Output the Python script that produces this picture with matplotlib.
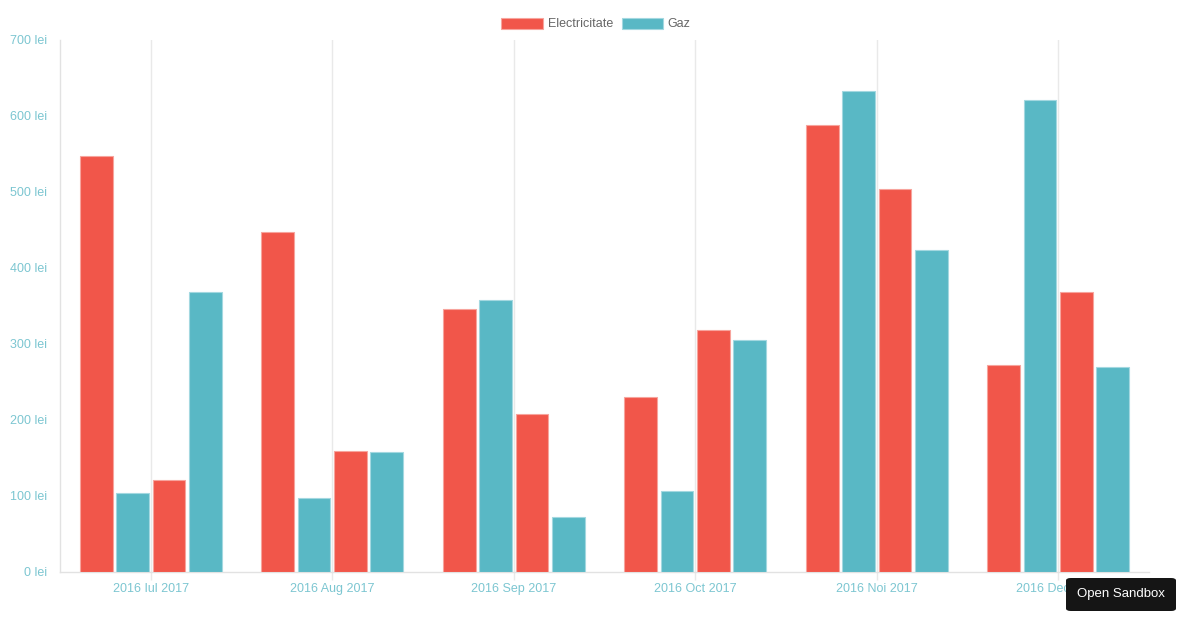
import matplotlib
matplotlib.use("Agg")
import matplotlib.pyplot as plt
from matplotlib.patches import FancyBboxPatch
import numpy as np

plt.rcParams['font.family'] = ['Liberation Sans', 'DejaVu Sans']

categories = ["2016 Iul 2017", "2016 Aug 2017", "2016 Sep 2017",
              "2016 Oct 2017", "2016 Noi 2017", "2016 Dec 2017"]
elec_2016 = [548, 447, 346, 230, 588, 272]
gaz_2016 = [104, 98, 358, 106, 633, 621]
elec_2017 = [121, 159, 208, 319, 504, 369]
gaz_2017 = [368, 158, 72, 305, 424, 270]
yticks = [0, 100, 200, 300, 400, 500, 600, 700]

RED = "#F1564A"
TEAL = "#59B8C5"
RED_EDGE = "#F7A49D"
TEAL_EDGE = "#A3D8E0"
TICK_COLOR = "#7CC6D1"
GRID = "#E9E9E9"

W, H = 1200, 630
fig = plt.figure(figsize=(12, 6.3), dpi=100)
ax = fig.add_axes([60 / W, 1 - 572 / H, (1149 - 60) / W, (572 - 40) / H])

x = np.arange(len(categories))
bw = 0.18
series = [(elec_2016, RED, RED_EDGE, "Electricitate"),
          (gaz_2016, TEAL, TEAL_EDGE, "Gaz"),
          (elec_2017, RED, RED_EDGE, None),
          (gaz_2017, TEAL, TEAL_EDGE, None)]
offsets = [-0.3, -0.1, 0.1, 0.3]
for (vals, c, ec, lab), off in zip(series, offsets):
    ax.bar(x + off, vals, width=bw, color=c, edgecolor=ec, linewidth=0.8,
           label=lab, zorder=3)

ax.set_xlim(-0.5, len(categories) - 0.5)
ax.set_ylim(0, 700)
ax.set_yticks(yticks)
ax.set_yticklabels([f"{v} lei" for v in yticks])
ax.set_xticks(x)
ax.set_xticklabels(categories)

for xi in x:
    ax.axvline(xi, color=GRID, linewidth=1.0, zorder=1)

ax.tick_params(axis='y', length=0, pad=9, labelsize=9, labelcolor=TICK_COLOR)
ax.tick_params(axis='x', length=6, width=1.0, color=GRID, pad=2,
               labelsize=9, labelcolor=TICK_COLOR)
for s in ['top', 'right']:
    ax.spines[s].set_visible(False)
for s in ['left', 'bottom']:
    ax.spines[s].set_color("#E2E2E2")
    ax.spines[s].set_linewidth(1.0)

handles, labels = ax.get_legend_handles_labels()
leg = fig.legend(handles, labels, loc='center', bbox_to_anchor=(596 / W, 1 - 24 / H),
                 ncol=2, frameon=False, fontsize=9, handlelength=3.3,
                 handleheight=1.0, handletextpad=0.4, columnspacing=0.7,
                 labelcolor="#666666", borderaxespad=0)

# overlay button
bx0, by0, bx1, by1 = 1066, 578, 1176, 611
box = FancyBboxPatch((bx0 / W, 1 - by1 / H), (bx1 - bx0) / W, (by1 - by0) / H,
                     boxstyle="round,pad=0,rounding_size=0.004",
                     transform=fig.transFigure, facecolor="#151515",
                     edgecolor="none", zorder=10)
fig.patches.append(box)
fig.text((bx0 + bx1) / 2 / W, 1 - (by0 + by1) / 2 / H, "Open Sandbox",
         color="white", fontsize=9.5, ha='center', va='center', zorder=11)

fig.savefig("out.png", dpi=100, facecolor="white")
